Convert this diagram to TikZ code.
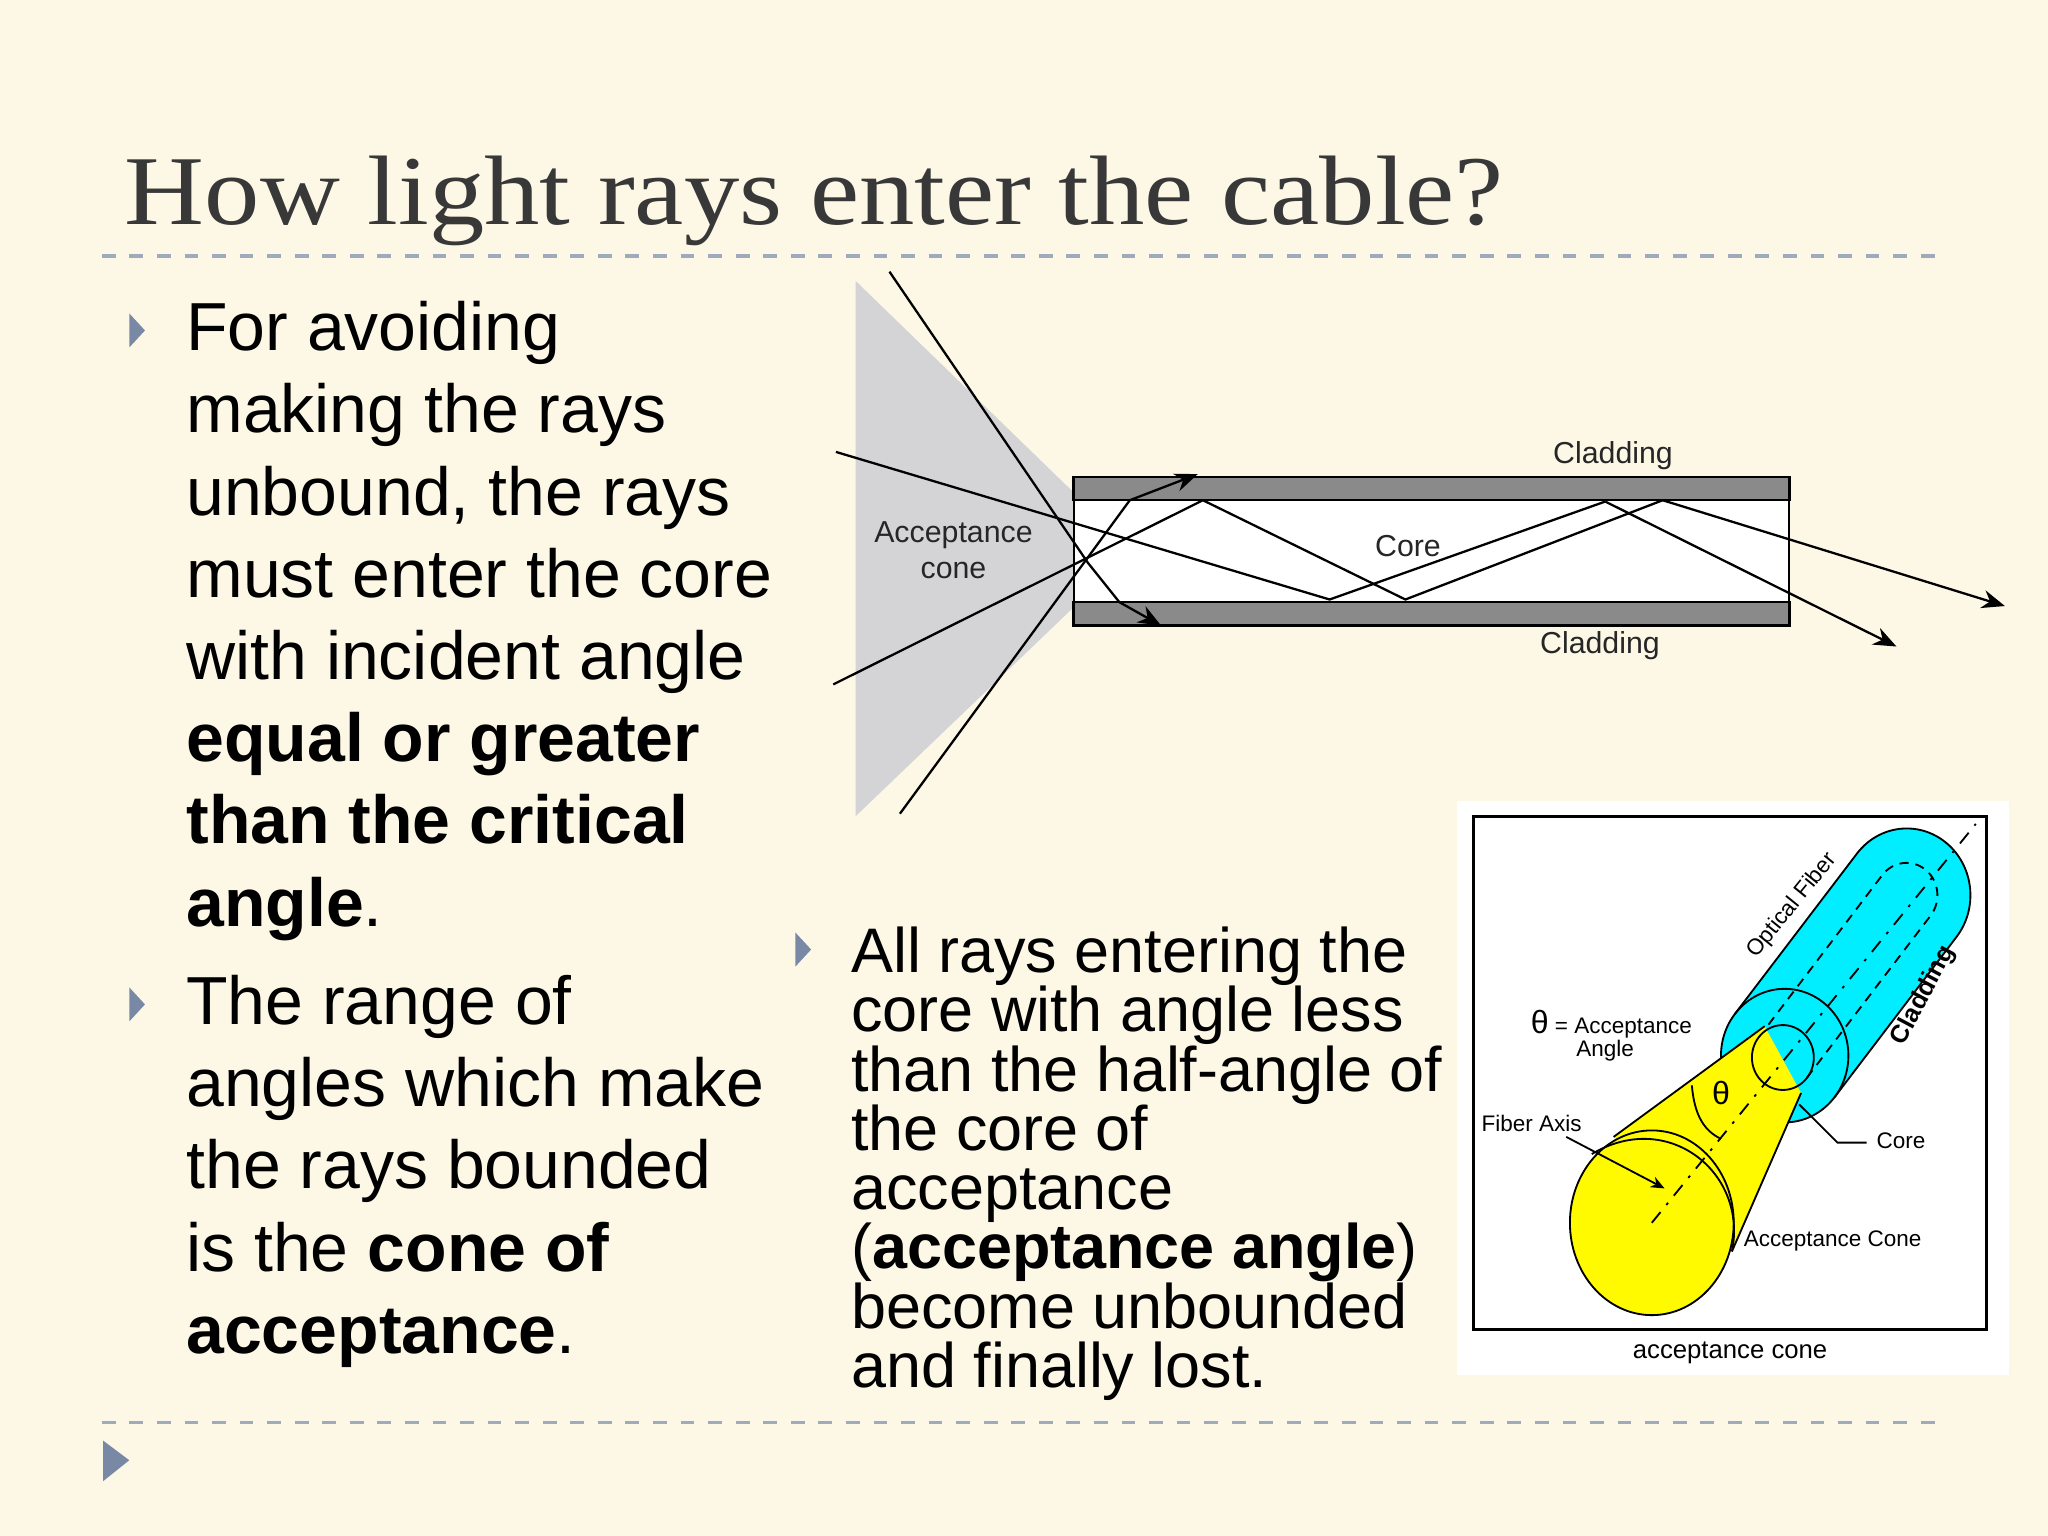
\documentclass[tikz,border=0pt]{standalone}
\usepackage{fontspec}
\setmainfont{Liberation Sans}
\newfontfamily\titlefont[FakeStretch=1.12]{Liberation Serif}
\usetikzlibrary{arrows.meta}
\newcommand\tightsp{\lineskiplimit=-20pt\relax\lineskip=0pt\relax}
\definecolor{bg}{RGB}{253,248,230}
\definecolor{bul}{RGB}{120,136,165}
\definecolor{dashc}{RGB}{160,170,190}
\definecolor{conegray}{RGB}{212,211,214}
\definecolor{cladgray}{RGB}{138,138,138}
\definecolor{cyanf}{RGB}{0,238,255}
\definecolor{yell}{RGB}{255,250,0}
\begin{document}
\begin{tikzpicture}[x=0.01cm,y=-0.01cm,
  bullet/.style={fill=bul,draw=none},
  body/.style={anchor=north west,inner sep=0,align=left,font=\fontsize{14.8}{17.9}\selectfont},
  body2/.style={anchor=north west,inner sep=0,align=left,font=\fontsize{13.7}{12.9}\selectfont\tightsp},
  ray/.style={black,line width=0.5pt},
  rayarrow/.style={black,line width=0.5pt,-{Stealth[length=5pt,width=4pt]}},
  lab/.style={inner sep=0,font=\fontsize{6.6}{7.8}\selectfont,text=black!85},
  small/.style={inner sep=0,font=\fontsize{4.9}{5.8}\selectfont},
  outl/.style={black,line width=0.4pt}]
\useasboundingbox (0,0) rectangle (1568,1176);
\fill[bg] (0,0) rectangle (1568,1176);
% title
\node[anchor=base west,inner sep=0,font=\titlefont\fontsize{21.5}{24}\selectfont,text=black!78] (title) at (95,172) {How light rays enter the cable?};
\draw[dashc,dashed,line width=0.8pt] (78,196) -- (1490,196);
\draw[dashc,dashed,line width=0.8pt] (78,1089) -- (1490,1089);
% bullets
\fill[bullet] (99,240) -- (111,253) -- (99,266) -- cycle;
\fill[bullet] (99,756) -- (111,769) -- (99,782) -- cycle;
\fill[bullet] (609,714) -- (621,727) -- (609,740) -- cycle;
\fill[bullet] (79,1103) -- (99,1118) -- (79,1134) -- cycle;
% left text
\node[body] (t1) at (142,230) {For avoiding\\making the rays\\unbound, the rays\\must enter the core\\with incident angle\\\textbf{equal or greater}\\\textbf{than the critical}\\\textbf{angle}.};
\node[body] (t2) at (142,746) {The range of\\angles which make\\the rays bounded\\is the \textbf{cone of}\\\textbf{acceptance}.};
\node[body2] (t3) at (651,709) {All rays entering the\\core with angle less\\than the half-angle of\\the core of\\acceptance\\(\textbf{acceptance angle})\\become unbounded\\and finally lost.};
% figure 1
\fill[conegray] (655,215) -- (823,378) -- (823,464) -- (655,625) -- cycle;
\draw[fill=cladgray,line width=0.5pt] (822,365) rectangle (1370,383);
\draw[fill=white,line width=0.4pt] (822,383) rectangle (1370,461);
\draw[fill=cladgray,line width=0.5pt] (822,461) rectangle (1370,479);
\draw[ray] (681,208) -- (833,431) -- (857,461);
\draw[rayarrow] (857,461) -- (889,479);
\draw[ray] (640,346) -- (1018,459) -- (1229,384);
\draw[rayarrow] (1229,384) -- (1452,495);
\draw[ray] (638,524) -- (921,383) -- (1076,459) -- (1273,383);
\draw[rayarrow] (1273,383) -- (1535,464);
\draw[ray] (689,623) -- (865,383);
\draw[rayarrow] (865,383) -- (917,363);
\node[lab,align=center] (acc) at (730,421) {Acceptance\\cone};
\node[lab] (core) at (1078,418) {Core};
\node[lab] (cladt) at (1235,349) {Cladding};
\node[lab] (cladb) at (1225,494) {Cladding};
% figure 2
\begin{scope}[shift={(1110,606)},xscale=0.2787,yscale=0.2922]
\fill[white] (20,25) rectangle (1535,1530);
\draw[line width=0.6pt] (65,65) rectangle (1475,1410);
% cylinder
\fill[cyanf] (1255,272) circle (175);
\fill[cyanf] (1057,801) -- (1392,381) -- (1118,163) -- (783,583) -- cycle;
\fill[cyanf] (920,692) circle (175);
\draw[outl] (1057,801) -- (1392,381) arc[start angle=38.6,end angle=-141.4,radius=175] -- (783,583);
\draw[outl] (920,692) circle (175);
\draw[outl,dashed,dash pattern=on 2pt off 1.5pt] (981,750) -- (1321,325) arc[start angle=38.6,end angle=-141.4,radius=85] -- (849,644);
% cone
\fill[yell] (555,1130) ellipse[x radius=225,y radius=242];
\fill[yell] (450,905) -- (865,615) -- (965,790) -- (775,1205) -- cycle;
\draw[outl] (555,1130) ellipse[x radius=225,y radius=242];
\draw[outl] (450,905) -- (865,615);
\draw[outl] (965,790) -- (775,1205);
\draw[outl] (390,950) .. controls (600,830) and (820,1000) .. (775,1205);
\draw[outl] (915,697) circle (85);
\draw[outl,dash pattern=on 3pt off 2pt on 0.6pt off 2pt] (555,1130) -- (1445,85);
\draw[outl] (665,770) .. controls (672,850) and (700,890) .. (745,910);
\node[small,font=\fontsize{7}{8}\selectfont] (th) at (745,790) {θ};
\node[small,anchor=west] (thl) at (220,610) {{\fontsize{7}{8}\selectfont θ} = Acceptance};
\node[small,anchor=west] (ang) at (345,678) {Angle};
\node[small,anchor=west] (fa) at (85,870) {Fiber Axis};
\draw[outl,-{Stealth[length=3pt,width=2.5pt]}] (320,905) -- (590,1040);
\node[small,anchor=west] (cl) at (1170,915) {Core};
\draw[outl] (960,820) -- (1065,920) -- (1145,920);
\node[small,anchor=west] (ac) at (805,1178) {Acceptance Cone};
\node[small,rotate=51,anchor=south] (of) at (965,318) {Optical Fiber};
\node[small,rotate=62,anchor=north,font=\fontsize{5.5}{6}\bfseries] (cd) at (1270,520) {Cladding};
\node[small,font=\fontsize{5.6}{6.5}\selectfont] (cap) at (770,1470) {acceptance cone};
\end{scope}
\end{tikzpicture}
\end{document}
